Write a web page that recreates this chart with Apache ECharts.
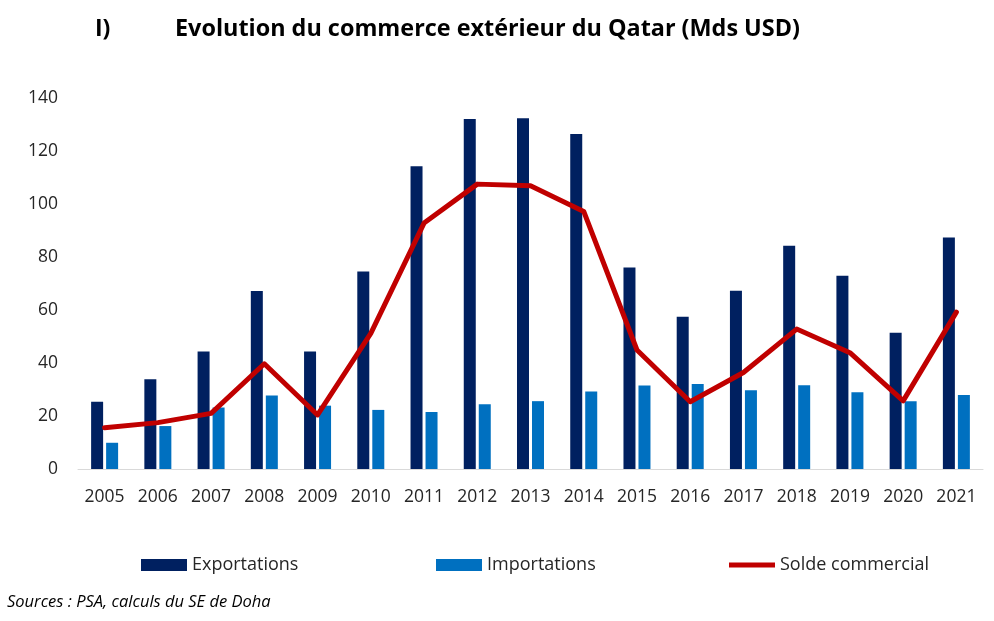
<!DOCTYPE html>
<html>
<head>
<meta charset="utf-8">
<title>Commerce extérieur du Qatar</title>
<script src="https://cdn.jsdelivr.net/npm/echarts@6/dist/echarts.min.js"></script>
<style>
  html, body { margin: 0; padding: 0; background: #fff; }
  #chart { width: 994px; height: 621px; }
</style>
</head>
<body>
<div id="chart"></div>
<script>
// données (Mds USD)
const years = ['2005', '2006', '2007', '2008', '2009', '2010', '2011', '2012', '2013',
  '2014', '2015', '2016', '2017', '2018', '2019', '2020', '2021']
const exportations = [25.4, 33.9, 44.3, 67.2, 44.3, 74.5, 114.2, 132.1, 132.4,
  126.4, 76.0, 57.5, 67.3, 84.2, 72.9, 51.4, 87.4]
const importations = [9.9, 16.2, 23.2, 27.7, 23.9, 22.3, 21.5, 24.4, 25.6,
  29.2, 31.5, 32.1, 29.7, 31.6, 29.0, 25.6, 27.9]
const solde = [15.6, 17.5, 21.0, 39.7, 20.4, 51.2, 92.8, 107.5, 106.9,
  97.2, 44.9, 25.4, 36.4, 52.8, 43.9, 25.7, 59.2]

const colors = {
  navy: '#002060',
  blue: '#0070c0',
  red: '#c00000',
  text: '#262626',
  axis: '#d9d9d9'
}
const font = '"Open Sans", "Noto Sans", sans-serif'

// trait fin pour la légende de la courbe (boîte 46x12, trait de 5px au milieu)
const lineIcon = 'path://M0,0L0,0M46,12L46,12M0,3.5L46,3.5L46,8.5L0,8.5Z'

const legendBase = {
  top: 556,
  padding: 0,
  itemWidth: 46, itemHeight: 12,
  textStyle: { fontSize: 18, color: colors.text, fontFamily: font }
}

const chart = echarts.init(document.getElementById('chart'))
chart.setOption({
  backgroundColor: '#fff',
  animation: false,
  textStyle: { fontFamily: font },
  title: [
    {
      text: 'I)',
      left: 90, top: 13,
      textStyle: { fontSize: 23, fontWeight: 'bold', color: '#000', fontFamily: font }
    },
    {
      text: 'Evolution du commerce extérieur du Qatar (Mds USD)',
      left: 170, top: 13,
      textStyle: { fontSize: 23.4, fontWeight: 'bold', color: '#000', fontFamily: font }
    },
    {
      text: 'Sources : PSA, calculs du SE de Doha',
      left: 2, top: 589,
      textStyle: { fontSize: 16.5, fontWeight: 'normal', fontStyle: 'italic', color: '#000', fontFamily: font }
    }
  ],
  legend: [
    Object.assign({ left: 141, data: [{ name: 'Exportations', icon: 'rect' }] }, legendBase),
    Object.assign({ left: 436, data: [{ name: 'Importations', icon: 'rect' }] }, legendBase),
    Object.assign({ left: 729, data: [{ name: 'Solde commercial', icon: lineIcon }] }, legendBase)
  ],
  grid: { left: 78, right: 11, top: 98, bottom: 152 },
  xAxis: {
    type: 'category',
    data: years,
    axisLine: { lineStyle: { color: colors.axis, width: 1 } },
    axisTick: { show: false },
    axisLabel: { color: colors.text, fontSize: 17.5, margin: 19, interval: 0 }
  },
  yAxis: {
    type: 'value',
    min: 0, max: 140, interval: 20,
    axisLine: { show: false },
    axisTick: { show: false },
    splitLine: { show: false },
    axisLabel: { color: colors.text, fontSize: 17.5, margin: 20 }
  },
  series: [
    {
      name: 'Exportations',
      type: 'bar',
      barWidth: 12,
      barGap: '25%',
      itemStyle: { color: colors.navy },
      data: exportations
    },
    {
      name: 'Importations',
      type: 'bar',
      barWidth: 12,
      itemStyle: { color: colors.blue },
      data: importations
    },
    {
      name: 'Solde commercial',
      type: 'line',
      symbol: 'none',
      itemStyle: { color: colors.red },
      lineStyle: { color: colors.red, width: 5, join: 'round', cap: 'round' },
      data: solde
    }
  ]
})
</script>
</body>
</html>
